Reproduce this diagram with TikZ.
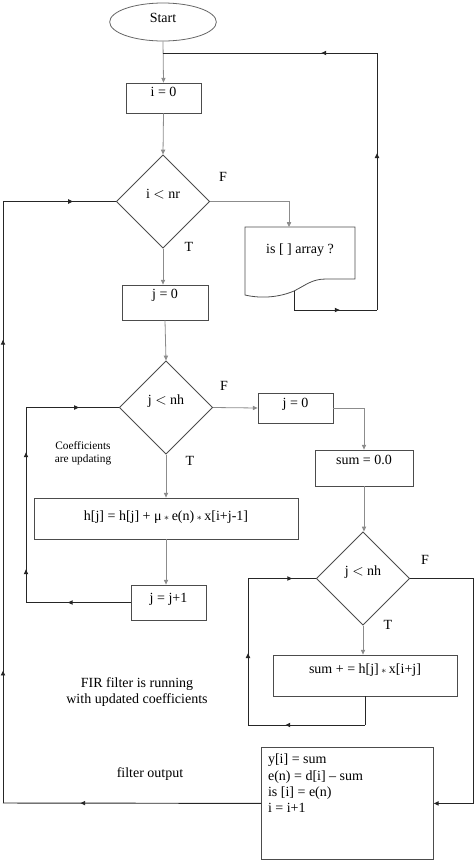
\documentclass[tikz,border=0pt]{standalone}
\usepackage{fontspec}
\setmainfont{Liberation Serif}
\usetikzlibrary{arrows.meta,shapes.geometric,decorations.markings}
\newcommand{\mulop}{\,$\scriptstyle\ast$\,}
\tikzset{
  arw/.tip={Triangle[length=3.6pt,width=3.2pt]},
  outl/.style={draw=black!70,line width=0.6pt},
  box/.style={outl,rectangle,inner sep=0pt,text height=7pt},
  cond/.style={outl,diamond,minimum size=70pt,inner sep=0pt,text height=7pt,text depth=12pt},
  conn/.style={draw=black!45,line width=0.6pt,-arw},
  loopl/.style={draw=black!85,line width=0.7pt},
  marr/.style={postaction={decorate,decoration={markings,mark=at position #1 with {\arrow{arw}}}}},
}
\begin{document}
\begin{tikzpicture}[x=0.75pt,y=0.75pt,yscale=-1,xscale=1,font=\fontsize{10.5}{12.25}\selectfont]
\useasboundingbox (0,0) rectangle (474,861);

% left column
\node[ellipse,draw=black!60,line width=0.6pt,minimum width=80pt,minimum height=28.5pt,inner sep=0pt,text height=7pt,text depth=6pt] (start) at (163,22) {Start};
\node[box,minimum width=56.25pt,minimum height=22.5pt,text depth=9pt] (i0) at (163.5,98) {i = 0};
\node[cond] (d1) at (163,201.5) {i $<$ nr};
\node[box,minimum width=64.5pt,minimum height=26.25pt,text depth=12.8pt] (j0) at (165,302.5) {j = 0};
\node[cond] (d2) at (166,407.5) {j $<$ nh};
\node[box,minimum width=198pt,minimum height=30.75pt,text depth=3.8pt] (h) at (166,518.5) {h[j] = h[j] + μ\mulop e(n)\mulop x[i+j-1]};
\node[box,minimum width=56.25pt,minimum height=26.25pt,text depth=6.8pt] (jj) at (168.5,602.5) {j = j+1};

% right column
\node[minimum width=82.5pt,minimum height=52pt,inner sep=0pt,text height=7pt,text depth=18pt] (arr) at (300,261) {is [ ] array ?};
\draw[outl] (355,279) -- (355,227) -- (245,227) -- (245,295)
  .. controls (262,299) and (280,297) .. (294,291) .. controls (306,285) and (312,279) .. (326,279) -- cycle;
\node[box,minimum width=56.25pt,minimum height=22.5pt,text depth=7.5pt] (j0b) at (295.5,408) {j = 0};
\node[box,minimum width=73.5pt,minimum height=27pt,text depth=12pt] (sum) at (364,468) {sum = 0.0};
\node[cond] (d3) at (363,578.5) {j $<$ nh};
\node[box,minimum width=138pt,minimum height=30.75pt,text depth=9.8pt] (sumacc) at (365,675.5) {sum + = h[j]\mulop x[i+j]};
\node[outl,rectangle,inner sep=5pt,anchor=north west] (yi) at (261,747) {\begin{minipage}[c][74pt][t]{119pt}
y[i] = sum\\
e(n) = d[i] -- sum\\
is [i] = e(n)\\
i = i+1
\end{minipage}};

% Text Node
\draw (223,177) node [inner sep=0.75pt] (lf1) {F};
\draw (189,247) node [inner sep=0.75pt] (lt1) {T};
\draw (224,386) node [inner sep=0.75pt] (lf2) {F};
\draw (190,461) node [inner sep=0.75pt] (lt2) {T};
\draw (425,560) node [inner sep=0.75pt] (lf3) {F};
\draw (388,625) node [inner sep=0.75pt] (lt3) {T};
% Text Node
\draw (83,453) node [inner sep=0.75pt,align=center,font=\fontsize{8.5}{10}\selectfont] (coef) {Coefficients\\are updating};
\draw (137,692) node [inner sep=0.75pt,align=center] (fir) {FIR filter is running\\with updated coefficients};
\draw (150,774) node [inner sep=0.75pt] (fout) {filter output};

\coordinate (tr1) at (377,53);
\coordinate (tr2) at (377,310);
\coordinate (arrb) at (294,291);
\coordinate (arrin) at (289,227);
\coordinate (rgt) at (473,578.5);
\coordinate (lb) at (3,803);
\coordinate (jl1) at (26,602.5);
\coordinate (sl1) at (248,725);

% connectors
\draw[conn] (start.south) -- (i0.north);
\draw[conn] (i0.south) -- (d1.north);
\draw[conn] (d1.south) -- (d1.south |- j0.north);
\draw[conn] (j0.south) -- (d2.north);
\draw[conn] (d2.south) -- (d2.south |- h.north);
\draw[conn] (h.south) -- (h.south |- jj.north);
\draw[conn] (d1.east) -| (arrin);
\draw[conn] (d2.east) -- (j0b.west);
\draw[conn] (j0b.east) -| (sum.north);
\draw[conn] (sum.south) -- (sum.south |- d3.north);
\draw[conn] (d3.south) -- (d3.south |- sumacc.north);
\draw[loopl,-arw] (d3.east) -- (rgt) |- (yi.east);

% loops
\draw[loopl] (arrb) -- (arrb |- tr2);
\draw[loopl,marr=.55] (arrb |- tr2) -- (tr2);
\draw[loopl,marr=.61] (tr2) -- (tr1);
\draw[loopl,marr=.26] (tr1) -- (start.south |- tr1);

\draw[loopl,marr=.7] (yi.west) -- (lb);
\draw[loopl,marr=.22,marr=.77] (lb) -- (lb |- d1.west);
\draw[loopl,marr=.62] (lb |- d1.west) -- (d1.west);

\draw[loopl,marr=.6] (jj.west) -- (jl1);
\draw[loopl,marr=.17,marr=.77] (jl1) -- (jl1 |- d2.west);
\draw[loopl,marr=.57] (jl1 |- d2.west) -- (d2.west);

\draw[loopl] (sumacc.south) -- (sumacc.south |- sl1);
\draw[loopl,marr=.68] (sumacc.south |- sl1) -- (sl1);
\draw[loopl,marr=.49] (sl1) -- (sl1 |- d3.west);
\draw[loopl,marr=.65] (sl1 |- d3.west) -- (d3.west);
\end{tikzpicture}
\end{document}
